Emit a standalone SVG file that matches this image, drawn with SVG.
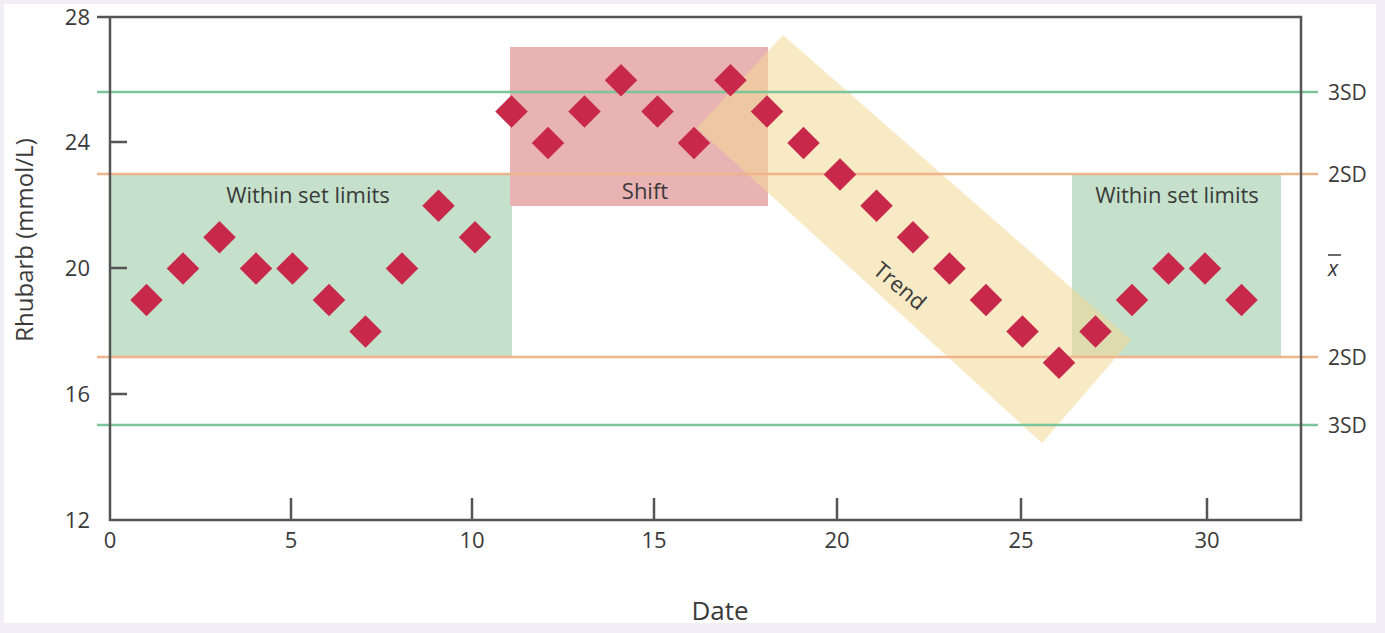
<svg xmlns="http://www.w3.org/2000/svg" width="1385" height="633" viewBox="0 0 1385 633">
<style>
text{font-family:"Open Sans","Liberation Sans",sans-serif;fill:#3a3a3a}
.t{font-size:22px}
.ax{stroke:#555;stroke-width:2.5;fill:none}
.d{fill:#c8294b}
.sd{font-size:21px}
</style>
<defs><rect id="dm" x="-11.5" y="-11.5" width="23" height="23" transform="rotate(45)"/></defs>
<rect width="1385" height="633" fill="#f3edf6"/>
<rect x="4" y="4" width="1372" height="619" fill="#fff"/>
<g id="zones">
<rect x="110" y="174" width="402" height="183" fill="#c5e1cc"/>
<rect x="1072" y="174" width="209" height="183" fill="#c5e1cc"/>
<rect x="510" y="47" width="258" height="159" fill="#e9b3b3"/>
<polygon points="783,35 1131,340 1042,443 697,128" fill="#f2d896" opacity="0.55"/>
</g>
<g id="lines">
<line x1="97" y1="92" x2="1318" y2="92" stroke="#7cc49a" stroke-width="2.5"/>
<line x1="97" y1="425" x2="1318" y2="425" stroke="#7cc49a" stroke-width="2.5"/>
<line x1="97" y1="174" x2="1318" y2="174" stroke="#eeb48c" stroke-width="2.5"/>
<line x1="97" y1="357" x2="1318" y2="357" stroke="#eeb48c" stroke-width="2.5"/>
</g>
<g id="axes">
<path class="ax" d="M97 17H1301V520H110V17"/>
<path class="ax" d="M110 142H127M110 268H127M110 394H127M291 520V498M472 520V498M654 520V498M837 520V498M1021 520V498M1207 520V498"/>
<g font-size="22" text-anchor="end">
<text x="90" y="25">28</text><text x="90" y="150">24</text><text x="90" y="276">20</text><text x="90" y="402">16</text><text x="90" y="528">12</text>
</g>
<g font-size="22" text-anchor="middle">
<text x="110" y="548">0</text><text x="291" y="548">5</text><text x="472" y="548">10</text><text x="654" y="548">15</text><text x="837" y="548">20</text><text x="1021" y="548">25</text><text x="1207" y="548">30</text>
</g>
<text x="720" y="620" font-size="26" text-anchor="middle">Date</text>
<text transform="translate(33,240) rotate(-90)" font-size="24" text-anchor="middle">Rhubarb  (mmol/L)</text>
<g class="sd"><text x="1328" y="100">3SD</text><text x="1328" y="182">2SD</text><text x="1328" y="365">2SD</text><text x="1328" y="433">3SD</text>
<text x="1328" y="276" font-style="italic">x</text></g>
<line x1="1328" y1="255" x2="1341" y2="255" stroke="#3a3a3a" stroke-width="1.5"/>
</g>
<g id="labels">
<text class="t" x="308" y="203" text-anchor="middle">Within set limits</text>
<text class="t" x="1177" y="203" text-anchor="middle">Within set limits</text>
<text class="t" x="645" y="199" text-anchor="middle">Shift</text>
<text class="t" transform="translate(895,292) rotate(40)" text-anchor="middle">Trend</text>
</g>
<g id="points" class="d">
<use href="#dm" x="146.5" y="300"/><use href="#dm" x="183" y="268.6"/><use href="#dm" x="219.5" y="237.2"/><use href="#dm" x="256" y="268.6"/><use href="#dm" x="292.5" y="268.6"/><use href="#dm" x="329" y="300"/><use href="#dm" x="365.5" y="331.4"/><use href="#dm" x="402" y="268.6"/><use href="#dm" x="438.5" y="205.8"/><use href="#dm" x="475" y="237.2"/>
<use href="#dm" x="511.5" y="111.6"/><use href="#dm" x="548" y="143"/><use href="#dm" x="584.5" y="111.6"/><use href="#dm" x="621" y="80.2"/><use href="#dm" x="657.5" y="111.6"/><use href="#dm" x="694" y="143"/><use href="#dm" x="730.5" y="80.2"/><use href="#dm" x="767" y="111.6"/><use href="#dm" x="803.5" y="143"/><use href="#dm" x="840" y="174.4"/>
<use href="#dm" x="876.5" y="205.8"/><use href="#dm" x="913" y="237.2"/><use href="#dm" x="949.5" y="268.6"/><use href="#dm" x="986" y="300"/><use href="#dm" x="1022.5" y="331.4"/><use href="#dm" x="1059" y="362.8"/><use href="#dm" x="1095.5" y="331.4"/><use href="#dm" x="1132" y="300"/><use href="#dm" x="1168.5" y="268.6"/><use href="#dm" x="1205" y="268.6"/><use href="#dm" x="1241.5" y="300"/>
</g>
</svg>
